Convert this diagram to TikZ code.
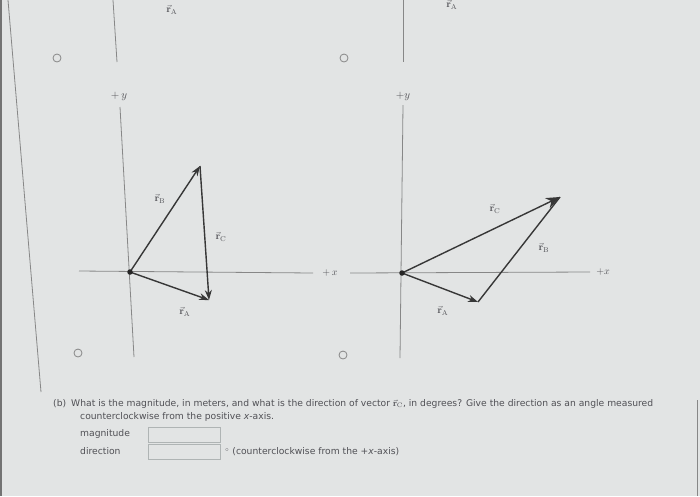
\documentclass[tikz,border=0pt]{standalone}
\usepackage{fontspec}
\newfontfamily\qfont{DejaVu Sans}
\usetikzlibrary{arrows.meta}
\definecolor{bgc}{RGB}{226,228,228}
\definecolor{axc}{RGB}{135,135,135}
\definecolor{vecc}{RGB}{55,55,55}
\definecolor{txtc}{RGB}{80,80,85}
\definecolor{boxc}{RGB}{175,180,180}
\tikzset{
  axis/.style={draw=axc, line width=0.8pt},
  vecline/.style={draw=vecc, line width=1.4pt, -{Stealth[length=10pt,width=7pt]}},
  bigvec/.style={draw=vecc, line width=1.4pt, -{Stealth[length=14pt,width=11pt]}},
  plain/.style={draw=vecc, line width=1.4pt},
  lbl/.style={text=txtc, font=\fontsize{10}{11}\selectfont, inner sep=0pt},
  axlbl/.style={text=txtc, font=\fontsize{11}{12}\selectfont, inner sep=0pt},
  radio/.style={draw=axc, line width=0.8pt, fill=bgc, circle, minimum size=8pt, inner sep=0pt},
  qtext/.style={text=txtc, font=\qfont\fontsize{9.2}{11}\selectfont, inner sep=0pt, anchor=west},
  ansbox/.style={draw=boxc, line width=0.8pt, minimum width=72pt, minimum height=15pt, inner sep=0pt, anchor=west},
  dot/.style={circle, fill=black!85, minimum size=5.5pt, inner sep=0pt}
}
\begin{document}
\begin{tikzpicture}[x=1pt,y=-1pt]
\fill[bgc] (0,0) rectangle (700,496);
\useasboundingbox (0,0) rectangle (700,496);
\fill[black!55] (0,0) rectangle (1.5,496);
% remnants of the upper figure
\draw[axis] (8,0) -- (41,392);
\draw[axis] (113,0) -- (117,62);
\draw[axis] (403,0) -- (403,62);
\node[lbl] (topA1) at (172,10) {$\vec{\mathbf r}_{\mathrm A}$};
\node[lbl] (topA2) at (452,5) {$\vec{\mathbf r}_{\mathrm A}$};
\node[radio] (rad1) at (57,58) {};
\node[radio] (rad2) at (344,58) {};
\node[radio] (rad3) at (78,353) {};
\node[radio] (rad4) at (343,355) {};
\draw[axis] (697,400) -- (697,496);

% left figure
\node[axlbl] (ly) at (119,96) {$+\,y$};
\coordinate (lyt) at (120,107);
\coordinate (lyb) at (134,357);
\coordinate (lxl) at (79,271);
\coordinate (lxr) at (313,273);
\draw[axis] (lyt) -- (lyb);
\draw[axis] (lxl) -- (lxr);
\node[lbl] (lx) at (330,273) {$+\,x$};
\coordinate (lO) at (130,272);
\coordinate (lP) at (200,166);
\coordinate (lQ) at (209,300);
\draw[vecline] (lO) -- (lP);
\draw[vecline] (lP) -- (lQ);
\draw[vecline] (lO) -- (lQ);
\node[dot] (lOd) at (lO) {};
\node[lbl] (lrB) at (160,199) {$\vec{\mathbf r}_{\mathrm B}$};
\node[lbl] (lrC) at (221,237) {$\vec{\mathbf r}_{\mathrm C}$};
\node[lbl] (lrA) at (185,312) {$\vec{\mathbf r}_{\mathrm A}$};

% right figure
\node[axlbl] (ry) at (403,96) {$+y$};
\coordinate (ryt) at (403,105);
\coordinate (ryb) at (400,358);
\coordinate (rxl) at (350,273);
\coordinate (rxr) at (590,272);
\draw[axis] (ryt) -- (ryb);
\draw[axis] (rxl) -- (rxr);
\node[lbl] (rx) at (603,272) {$+x$};
\coordinate (rO) at (402,273);
\coordinate (rP) at (478,302);
\coordinate (rQ) at (560,197);
\draw[vecline] (rO) -- (rP);
\draw[plain] (rP) -- (rQ);
\draw[bigvec] (rO) -- (rQ);
\node[dot] (rOd) at (rO) {};
\node[lbl] (rrC) at (495,209) {$\vec{\mathbf r}_{\mathrm C}$};
\node[lbl] (rrB) at (544,248) {$\vec{\mathbf r}_{\mathrm B}$};
\node[lbl] (rrA) at (443,311) {$\vec{\mathbf r}_{\mathrm A}$};

% question
\node[qtext] (q1) at (53,404) {(b)\hspace{5pt}What is the magnitude, in meters, and what is the direction of vector $\vec{\mathbf r}_{\mathrm C}$, in degrees? Give the direction as an angle measured};
\node[qtext] (q2) at (80,417) {counterclockwise from the positive \textit{x}-axis.};
\node[qtext] (mag) at (80,434) {magnitude};
\node[qtext] (dir) at (80,451) {direction};
\node[ansbox] (b1) at (148,434.5) {};
\node[ansbox] (b2) at (148,451.5) {};
\node[qtext] (unit) at (225,452) {$^{\circ}$ (counterclockwise from the +\textit{x}-axis)};
\end{tikzpicture}
\end{document}
